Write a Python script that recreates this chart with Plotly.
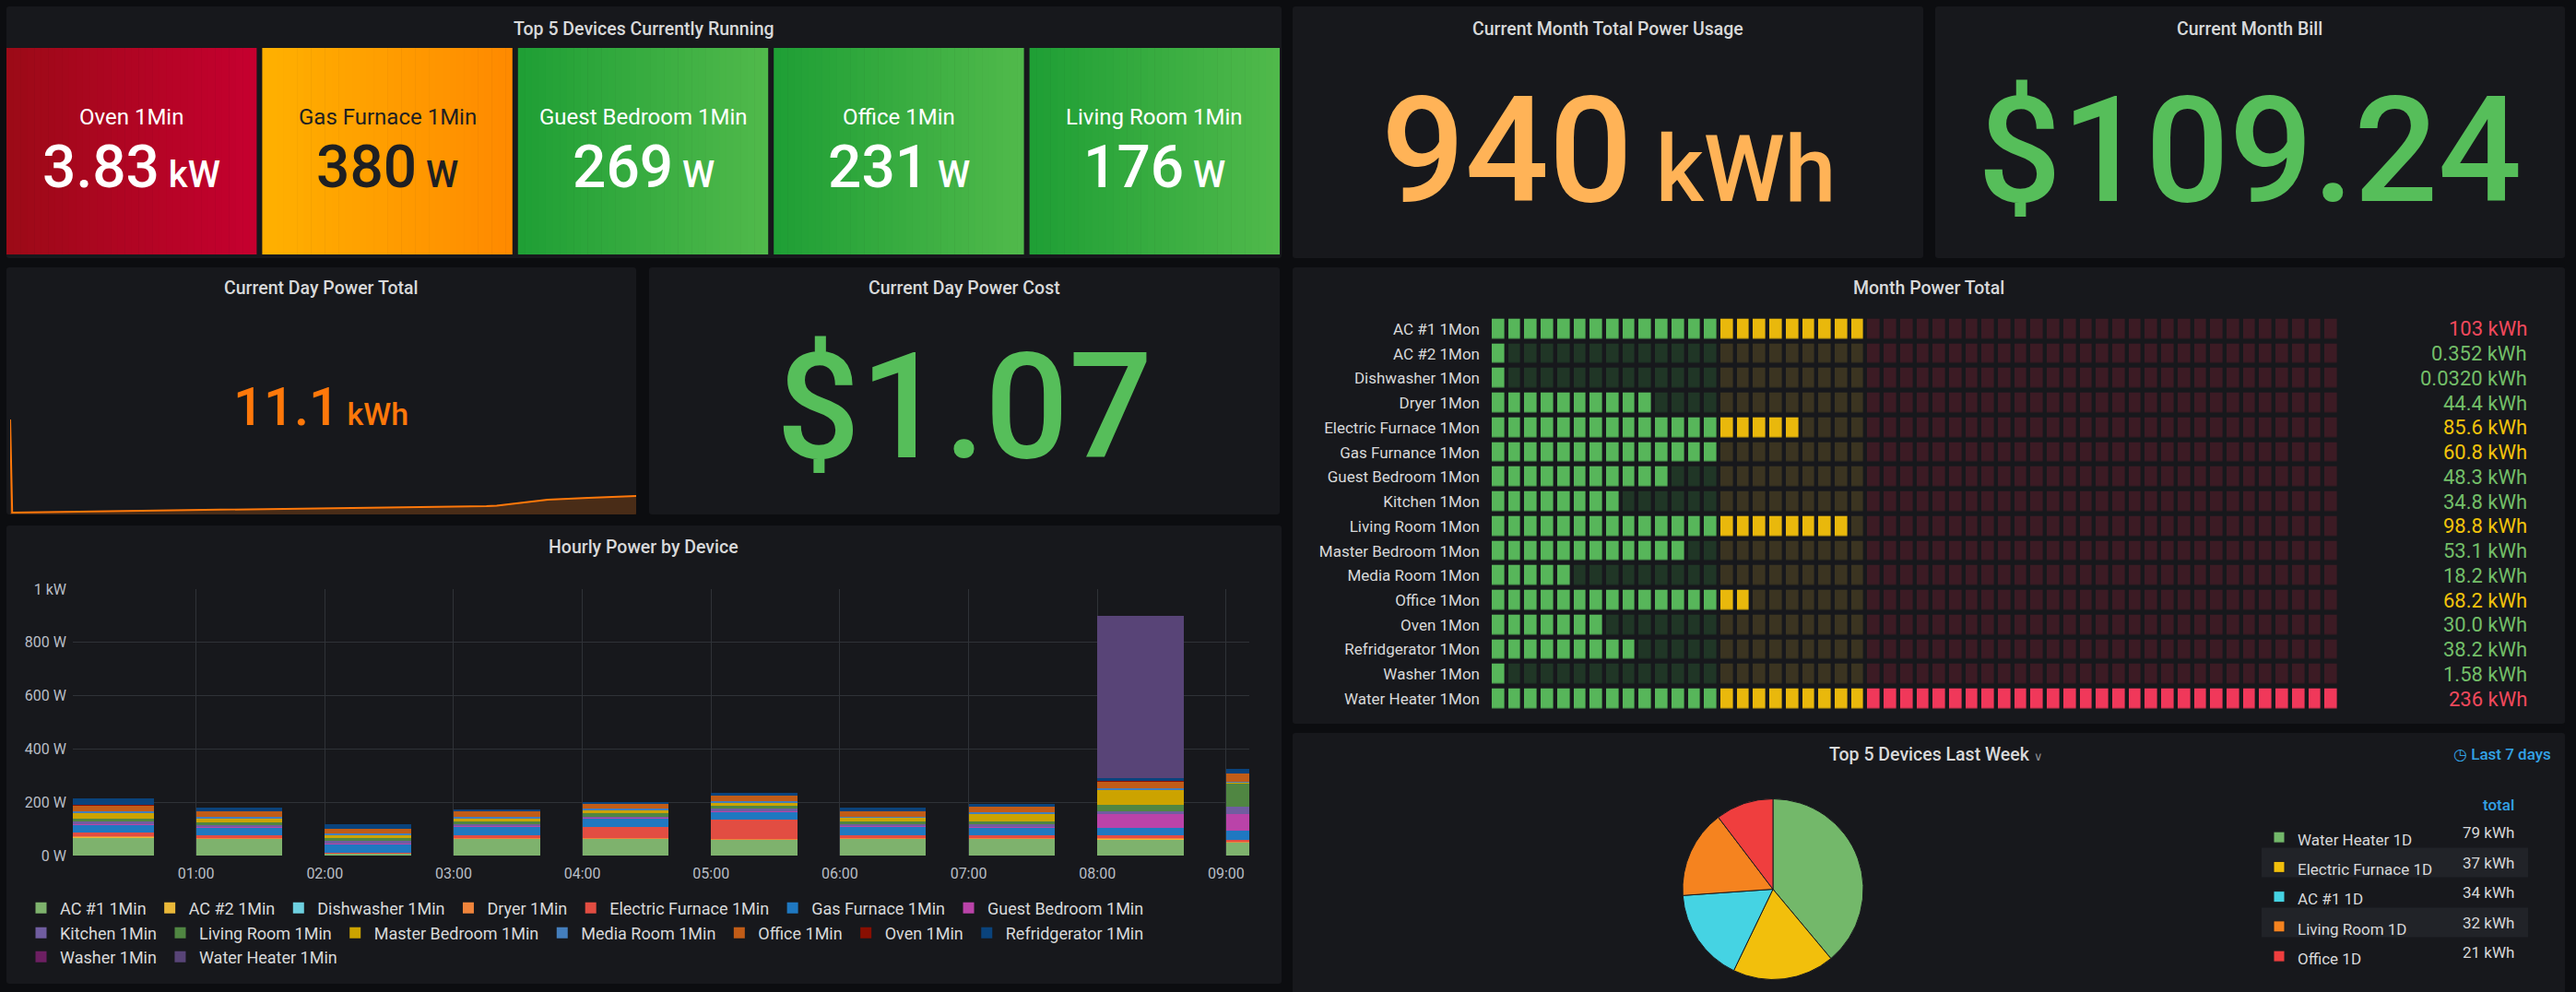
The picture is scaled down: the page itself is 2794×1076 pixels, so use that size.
import math
import plotly.graph_objects as go

W, H = 2794, 1076

# ---------------- data ----------------
running_devices = ["Oven 1Min", "Gas Furnace 1Min", "Guest Bedroom 1Min", "Office 1Min", "Living Room 1Min"]
running_watts = [3830, 380, 269, 231, 176]
running_thresholds = [300, 1000]          # W: green < 300 <= orange < 1000 <= red

month_total_kwh = 940
month_bill_usd = 109.24
day_total_kwh = 11.1
day_cost_usd = 1.07

day_hours = [0.0, 0.03, 1, 2, 3, 4, 5, 6, 7, 7.15, 7.9, 8.5, 9.2]
day_kwh = [57, 1.1, 1.7, 2.2, 2.7, 3.2, 3.8, 4.4, 5.0, 5.3, 8.9, 10.0, 11.1]

month_devices = ["AC #1 1Mon", "AC #2 1Mon", "Dishwasher 1Mon", "Dryer 1Mon", "Electric Furnace 1Mon",
                 "Gas Furnance 1Mon", "Guest Bedroom 1Mon", "Kitchen 1Mon", "Living Room 1Mon",
                 "Master Bedroom 1Mon", "Media Room 1Mon", "Office 1Mon", "Oven 1Mon",
                 "Refridgerator 1Mon", "Washer 1Mon", "Water Heater 1Mon"]
month_kwh = [103, 0.352, 0.0320, 44.4, 85.6, 60.8, 48.3, 34.8, 98.8, 53.1, 18.2, 68.2, 30.0, 38.2, 1.58, 236]
month_thresholds = [60, 100]              # kWh
month_cells = 52

hour_positions = [0, 1, 2, 3, 4, 5, 6, 7, 8, 9]
hour_tick_values = [1, 2, 3, 4, 5, 6, 7, 8, 9]
hour_tick_labels = ["01:00", "02:00", "03:00", "04:00", "05:00", "06:00", "07:00", "08:00", "09:00"]
power_tick_values = [0, 200, 400, 600, 800, 1000]
power_tick_labels = ["0 W", "200 W", "400 W", "600 W", "800 W", "1 kW"]

hourly_series = ["AC #1 1Min", "AC #2 1Min", "Dishwasher 1Min", "Dryer 1Min", "Electric Furnace 1Min",
                 "Gas Furnace 1Min", "Guest Bedroom 1Min", "Kitchen 1Min", "Living Room 1Min",
                 "Master Bedroom 1Min", "Media Room 1Min", "Office 1Min", "Oven 1Min",
                 "Refridgerator 1Min", "Washer 1Min", "Water Heater 1Min"]
ac1_w = [69, 64, 7, 64, 63, 61, 64, 64, 62, 50]
ac2_w = [1, 1, 1, 1, 1, 1, 1, 1, 1, 0]
dishwasher_w = [0, 0, 0, 0, 0, 0, 0, 0, 0, 0]
dryer_w = [2, 2, 1, 2, 2, 2, 2, 2, 2, 1]
electric_furnace_w = [13, 9, 3, 10, 43, 70, 10, 10, 10, 7]
gas_furnace_w = [32, 30, 32, 31, 30, 31, 31, 28, 30, 34]
guest_bedroom_w = [4, 3, 4, 3, 3, 4, 4, 4, 52, 63]
kitchen_w = [6, 6, 6, 6, 5, 6, 6, 8, 9, 29]
living_room_w = [12, 11, 12, 10, 11, 11, 11, 11, 25, 86]
master_bedroom_w = [22, 14, 12, 14, 12, 14, 13, 30, 56, 6]
media_room_w = [5, 4, 4, 5, 5, 5, 5, 4, 4, 2]
office_w = [23, 21, 20, 21, 19, 21, 20, 20, 27, 31]
oven_w = [1, 0, 0, 0, 0, 0, 0, 0, 1, 0]
refridgerator_w = [24, 16, 16, 5, 4, 9, 14, 11, 10, 17]
washer_w = [0, 0, 0, 0, 0, 0, 0, 0, 0, 0]
water_heater_w = [0, 0, 0, 0, 0, 0, 0, 0, 610, 0]
hourly_values = [ac1_w, ac2_w, dishwasher_w, dryer_w, electric_furnace_w, gas_furnace_w, guest_bedroom_w,
                 kitchen_w, living_room_w, master_bedroom_w, media_room_w, office_w, oven_w,
                 refridgerator_w, washer_w, water_heater_w]

week_devices = ["Water Heater 1D", "Electric Furnace 1D", "AC #1 1D", "Living Room 1D", "Office 1D"]
week_kwh = [79, 37, 34, 32, 21]

# ---------------- styles ----------------
BG = "#0c0d10"
PANEL = "#17181c"
TEXT = "#d8d9da"
GRID = "#2f3237"
FONT = "Roboto"
series_colors = ["#7EB26D", "#EAB839", "#6ED0E0", "#EF843C", "#E24D42", "#1F78C1", "#BA43A9", "#705DA0",
                 "#508642", "#CCA300", "#447EBC", "#C15C17", "#890F02", "#0A437C", "#6D1F62", "#584477"]
pie_colors = ["#73B86A", "#F2BF0C", "#45D3E3", "#F5831F", "#EF3E3E"]
GREEN_T, YELLOW_T, RED_T = "#73BF69", "#F2C40C", "#F2495C"
cell_colors = ["#203626", "#3b3421", "#3c1b24", "#57b65a", "#e9b80c", "#f0385a"]


def X(p):
    return p / W


def Y(p):
    return 1 - p / H


def hex2rgb(h):
    h = h.lstrip("#")
    return tuple(int(h[i:i + 2], 16) for i in (0, 2, 4))


def mix(c1, c2, t):
    a, b = hex2rgb(c1), hex2rgb(c2)
    return "rgb(%d,%d,%d)" % tuple(round(a[i] + (b[i] - a[i]) * t) for i in range(3))


def rrect(x0, y0, x1, y1, fill, r=3):
    p = (f"M {X(x0 + r)},{Y(y0)} L {X(x1 - r)},{Y(y0)} Q {X(x1)},{Y(y0)} {X(x1)},{Y(y0 + r)} "
         f"L {X(x1)},{Y(y1 - r)} Q {X(x1)},{Y(y1)} {X(x1 - r)},{Y(y1)} L {X(x0 + r)},{Y(y1)} "
         f"Q {X(x0)},{Y(y1)} {X(x0)},{Y(y1 - r)} L {X(x0)},{Y(y0 + r)} Q {X(x0)},{Y(y0)} {X(x0 + r)},{Y(y0)} Z")
    return dict(type="path", path=p, xref="paper", yref="paper", fillcolor=fill,
                line=dict(width=0), layer="below")


shapes = []
annotations = []


def ann(x, y, text, size, color=TEXT, weight=400, xanchor="center", yref="paper", yval=None):
    annotations.append(dict(x=X(x), y=Y(y) if yval is None else yval, xref="paper", yref=yref,
                            text=text, showarrow=False, xanchor=xanchor, yanchor="middle",
                            font=dict(family=FONT, size=size, color=color, weight=weight)))


# panels
panels = [(7, 7, 1390, 280), (1402, 7, 2086, 280), (2099, 7, 2782, 280),
          (7, 290, 690, 558), (704, 290, 1388, 558), (1402, 290, 2782, 785),
          (7, 570, 1390, 1067), (1402, 795, 2782, 1090)]
for p in panels:
    shapes.append(rrect(*p, PANEL))

# titles
TS = 19.5
ann(698, 31, "Top 5 Devices Currently Running", TS, weight=500)
ann(1744, 31, "Current Month Total Power Usage", TS, weight=500)
ann(2440, 31, "Current Month Bill", TS, weight=500)
ann(348, 312, "Current Day Power Total", TS, weight=500)
ann(1046, 312, "Current Day Power Cost", TS, weight=500)
ann(2092, 312, "Month Power Total", TS, weight=500)
ann(698, 593, "Hourly Power by Device", TS, weight=500)
ann(2100, 818, "Top 5 Devices Last Week <span style='font-size:13px;color:#8e9096'>∨</span>", TS, weight=500)
ann(2769, 818, "◷ Last 7 days", 17, color="#33A2E5", weight=500, xanchor="right")

# ---------------- top 5 running tiles ----------------
n = len(running_devices)
tx0, tx1, ty0, ty1, gap = 7, 1388, 52, 276, 6
tw = (tx1 - tx0 - gap * (n - 1)) / n
for i, (name, w) in enumerate(zip(running_devices, running_watts)):
    if w >= running_thresholds[1]:
        c1, c2, tc = "#9c0a17", "#c5002f", "#ffffff"
    elif w >= running_thresholds[0]:
        c1, c2, tc = "#ffb000", "#ff8a00", "#1e1f22"
    else:
        c1, c2, tc = "#1f9f35", "#50b94b", "#ffffff"
    x0 = tx0 + i * (tw + gap)
    strips = 36
    sw = tw / strips
    for s in range(strips):
        shapes.append(dict(type="rect", xref="paper", yref="paper",
                           x0=X(x0 + s * sw), x1=X(min(x0 + (s + 1) * sw + 0.6, x0 + tw)),
                           y0=Y(ty1), y1=Y(ty0), fillcolor=mix(c1, c2, s / (strips - 1)),
                           line=dict(width=0), layer="below"))
    xc = x0 + tw / 2
    if w >= 1000:
        num, unit = f"{w / 1000:.2f}", "kW"
    else:
        num, unit = f"{w:.0f}", "W"
    ann(xc, 127, name, 24, color=tc)
    ann(xc, 182, f"{num}<span style='font-size:40px'> {unit}</span>", 64, color=tc, weight=500)

# ---------------- big stats ----------------
ann(1744, 164, f"{month_total_kwh:.0f}<span style='font-size:100px'> kWh</span>", 160, color="#FFB357", weight=500)
ann(2440, 164, f"${month_bill_usd:.2f}", 160, color="#56BE5A", weight=500)
ann(348, 441, f"{day_total_kwh:.1f}<span style='font-size:34px'> kWh</span>", 58, color="#FF780A", weight=500)
ann(1046, 442, f"${day_cost_usd:.2f}", 160, color="#56BE5A", weight=500)

fig = go.Figure()

# ---------------- hourly stacked bars ----------------
legend_of = ["legend"] * 7 + ["legend2"] * 7 + ["legend3"] * 2
for name, vals, col, lg in zip(hourly_series, hourly_values, series_colors, legend_of):
    fig.add_trace(go.Bar(x=hour_positions, y=vals, name=name, marker=dict(color=col, line=dict(width=0)),
                         width=0.67, offset=0, xaxis="x", yaxis="y", legend=lg, hoverinfo="skip"))

# ---------------- sparkline ----------------
fig.add_trace(go.Scatter(x=day_hours, y=day_kwh, mode="lines", line=dict(color="#FF780A", width=2),
                         fill="tozeroy", fillcolor="rgba(255,120,10,0.22)", xaxis="x2", yaxis="y2",
                         showlegend=False, hoverinfo="skip"))

# ---------------- month power LCD gauge ----------------
vmax = max(month_kwh)
step = vmax / month_cells
z = []
for v in month_kwh:
    lit = math.ceil(v / vmax * month_cells)
    row = []
    for i in range(month_cells):
        cv = i * step
        zone = 0 if cv < month_thresholds[0] else (1 if cv < month_thresholds[1] else 2)
        row.append(zone + (3 if i < lit else 0))
    z.append(row)
cs = []
for k, c in enumerate(cell_colors):
    cs.append([k / 6, c])
    cs.append([(k + 1) / 6, c])
fig.add_trace(go.Heatmap(z=z, x=list(range(month_cells)), y=month_devices, colorscale=cs, zmin=-0.5,
                         zmax=5.5, showscale=False, xgap=4.4, ygap=5.4, xaxis="x3", yaxis="y3",
                         hoverinfo="skip"))
for dev, v in zip(month_devices, month_kwh):
    col = GREEN_T if v < month_thresholds[0] else (YELLOW_T if v < month_thresholds[1] else RED_T)
    txt = f"{v:#.3g}".rstrip(".") + " kWh"
    ann(2743, None, txt, 22, color=col, xanchor="right", yref="y3", yval=dev)

# ---------------- pie ----------------
pie_labels = [f"<span style='font-size:17px'>{d}</span>" for d in week_devices]
fig.add_trace(go.Pie(labels=pie_labels, values=week_kwh, sort=False, direction="clockwise", rotation=0,
                     marker=dict(colors=pie_colors, line=dict(color="#1a1b1f", width=1)),
                     textinfo="none", hoverinfo="skip", legend="legend4",
                     domain=dict(x=[X(1825), X(2021)], y=[Y(1063), Y(866)])))
row_y0, row_pitch = 903, 32.5
for i, v in enumerate(week_kwh):
    yy = row_y0 + i * row_pitch
    if i % 2 == 1:
        shapes.append(dict(type="rect", xref="paper", yref="paper", x0=X(2453), x1=X(2742),
                           y0=Y(yy + 16), y1=Y(yy - 16), fillcolor="#212328", line=dict(width=0),
                           layer="below"))
    ann(2729, yy, f"{v:.0f} kWh", 17, xanchor="right")
ann(2729, 873, "total", 17, color="#33A2E5", weight=500, xanchor="right")

axis_font = dict(family=FONT, size=16, color="#b9bec6")
legend_common = dict(orientation="h", bgcolor="rgba(0,0,0,0)", font=dict(family=FONT, size=18, color=TEXT),
                     xanchor="left", yanchor="middle", itemwidth=31, tracegroupgap=0, traceorder="normal")

fig.update_layout(
    width=W, height=H, autosize=False, margin=dict(l=0, r=0, t=0, b=0, pad=0, autoexpand=False),
    paper_bgcolor=BG, plot_bgcolor="rgba(0,0,0,0)", barmode="stack", hovermode=False,
    font=dict(family=FONT, color=TEXT),
    shapes=shapes, annotations=annotations,
    xaxis=dict(domain=[X(79), X(1355)], anchor="y", range=[0.043, 9.18], tickvals=hour_tick_values,
               ticktext=hour_tick_labels, showgrid=True, gridcolor=GRID, gridwidth=1, zeroline=False,
               showline=False, ticks="", tickfont=axis_font, ticklabelstandoff=8, fixedrange=True,
               automargin=False),
    yaxis=dict(domain=[Y(928), Y(639)], anchor="x", range=[0, 1000], tickvals=power_tick_values,
               ticktext=power_tick_labels, showgrid=True, gridcolor=GRID, gridwidth=1, zeroline=False,
               showline=False, ticks="", tickfont=axis_font, ticklabelstandoff=6, fixedrange=True,
               automargin=False),
    xaxis2=dict(domain=[X(11), X(690)], anchor="y2", range=[min(day_hours), max(day_hours)], visible=False),
    yaxis2=dict(domain=[Y(558), Y(455)], anchor="x2", range=[0, max(day_kwh)], visible=False),
    xaxis3=dict(domain=[X(1616), X(2537)], anchor="y3", range=[-0.5, month_cells - 0.5], visible=False),
    yaxis3=dict(domain=[Y(772.5), Y(342.5)], anchor="x3", autorange="reversed", showgrid=False,
                zeroline=False, showline=False, ticks="", tickfont=dict(family=FONT, size=17, color=TEXT),
                ticklabelstandoff=10, automargin=False),
    legend=dict(x=X(24), y=Y(985), **legend_common),
    legend2=dict(x=X(24), y=Y(1012), **legend_common),
    legend3=dict(x=X(24), y=Y(1038), **legend_common),
    legend4=dict(x=X(2452), y=Y(887), orientation="v", bgcolor="rgba(0,0,0,0)",
                 font=dict(family=FONT, size=22.5, color=TEXT), xanchor="left", yanchor="top",
                 itemwidth=30, tracegroupgap=0, traceorder="normal"),
)

fig.write_html("out.html", config={"displayModeBar": False}, post_script=(
    "document.body.style.margin='0';document.body.style.padding='0';"
    "document.body.style.background='#0c0d10';document.body.style.overflow='hidden';"))
